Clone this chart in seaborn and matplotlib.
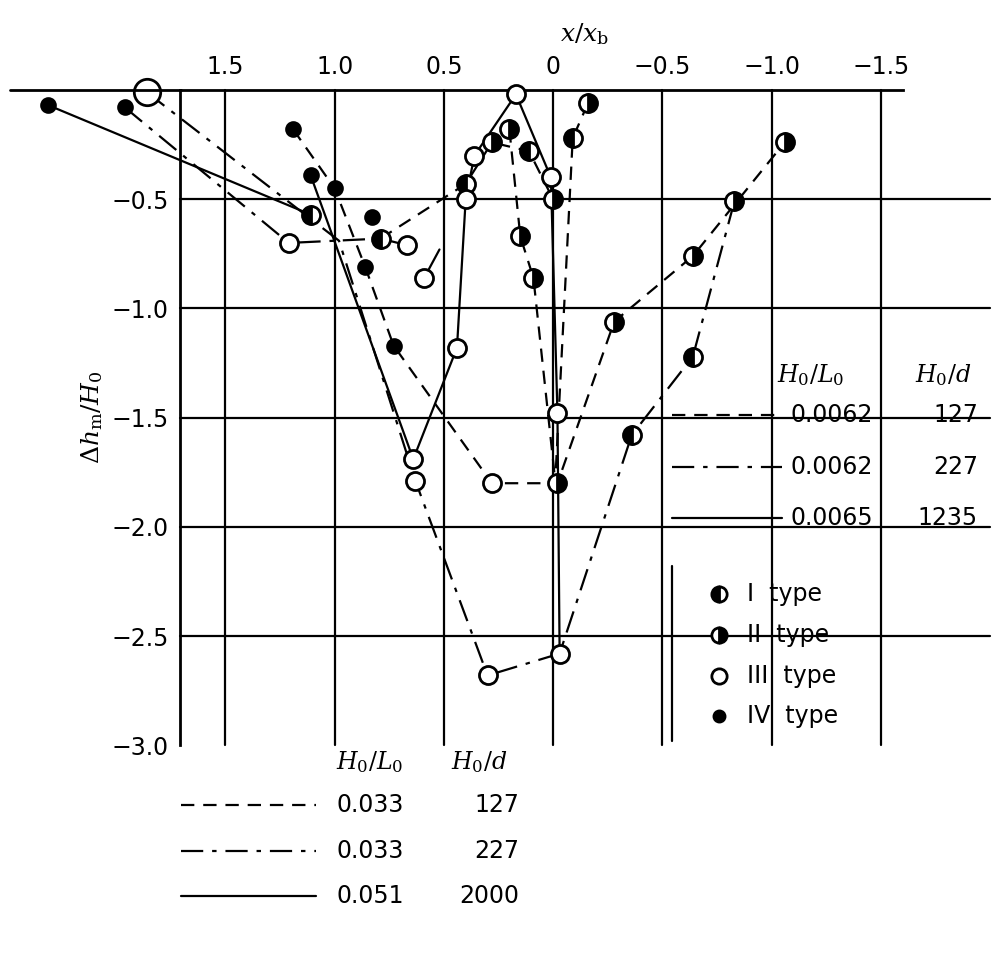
import matplotlib
matplotlib.use("Agg")
import numpy as np
import pandas as pd
import seaborn as sns
from matplotlib import pyplot as plt
from matplotlib.lines import Line2D

# curves (x/x_b, dh_m/H0)
c1_x = [1.19, 1.00, 0.86, 0.73, 0.28, -0.02, -0.28, -0.64, -1.06]
c1_y = [-0.18, -0.45, -0.81, -1.17, -1.80, -1.80, -1.06, -0.76, -0.24]
c2_x = [1.96, 1.21, 1.00, 0.79]
c2_y = [-0.08, -0.70, -0.69, -0.68]
c3_x = [1.86, 0.98, 0.63, 0.30, -0.03, -0.36, -0.64, -0.83]
c3_y = [-0.01, -0.69, -1.79, -2.68, -2.58, -1.58, -1.22, -0.51]
c4_x = [1.11, 0.64, 0.44, 0.40, 0.36, 0.17, 0.01, -0.02, -0.03]
c4_y = [-0.39, -1.69, -1.18, -0.50, -0.30, -0.02, -0.40, -1.48, -2.58]
c5_x = [0.20, 0.15, 0.09, -0.01]
c5_y = [-0.18, -0.67, -0.86, -1.79]
c5b_x = [-0.16, -0.09, -0.01]
c5b_y = [-0.06, -0.22, -1.79]
c6_x = [0.79, 0.67]
c6_y = [-0.68, -0.71]
c6b_x = [0.59, 0.52]
c6b_y = [-0.86, -0.73]
c7_x = [0.79, 0.40, 0.28, 0.11, 0.00]
c7_y = [-0.68, -0.43, -0.24, -0.28, -0.50]
c8_x = [2.31, 1.11]
c8_y = [-0.07, -0.57]

# markers by type
t1_x = [1.11, 0.79, 0.40, 0.11, -0.09, -0.36, -0.64]
t1_y = [-0.57, -0.68, -0.43, -0.28, -0.22, -1.58, -1.22]
t2_x = [0.28, 0.20, 0.15, 0.09, -0.16, -0.28, -0.64, -1.06, -0.83, -0.02, 0.00]
t2_y = [-0.24, -0.18, -0.67, -0.86, -0.06, -1.06, -0.76, -0.24, -0.51, -1.80, -0.50]
t3_x = [1.21, 0.67, 0.59, 0.40, 0.17, 0.01, 0.64, 0.63, 0.44, 0.28, -0.02, 0.30, -0.03, 0.36]
t3_y = [-0.70, -0.71, -0.86, -0.50, -0.02, -0.40, -1.69, -1.79, -1.18, -1.80, -1.48, -2.68, -2.58, -0.30]
t3_big_x = [1.86]
t3_big_y = [-0.01]
t4_x = [2.31, 1.96, 1.19, 1.11, 1.00, 0.86, 0.73, 0.83]
t4_y = [-0.07, -0.08, -0.18, -0.39, -0.45, -0.81, -1.17, -0.58]

x_ticks = [1.5, 1.0, 0.5, 0, -0.5, -1.0, -1.5]
x_tick_labels = ["1.5", "1.0", "0.5", "0", "\u22120.5", "\u22121.0", "\u22121.5"]
y_ticks = [0, -0.5, -1.0, -1.5, -2.0, -2.5, -3.0]
y_tick_labels = ["", "\u22120.5", "\u22121.0", "\u22121.5", "\u22122.0", "\u22122.5", "\u22123.0"]

sns.set_theme(style="white")
plt.rcParams["font.family"] = ["DejaVu Sans"]
plt.rcParams["mathtext.fontset"] = "dejavuserif"
plt.rcParams["text.color"] = "black"
plt.rcParams["axes.labelcolor"] = "black"
plt.rcParams["xtick.color"] = "black"
plt.rcParams["ytick.color"] = "black"

fig = plt.figure(figsize=(10.03, 9.68), dpi=100)
ax = fig.add_axes([0.179, 0.230, 0.808, 0.677])
ax.set_xlim(1.71, -2.0)
ax.set_ylim(-3.0, 0)

for xv in x_ticks:
    ax.axvline(xv, color="black", lw=1.6, zorder=1)
for yv in y_ticks[1:-1]:
    ax.axhline(yv, color="black", lw=1.6, zorder=1)

dash = (0, (6, 4))
dashdot = (0, (10, 4, 2, 4))
curves = [
    (c1_x, c1_y, dash), (c2_x, c2_y, dashdot), (c3_x, c3_y, dashdot),
    (c4_x, c4_y, "-"), (c5_x, c5_y, dash), (c5b_x, c5b_y, dash),
    (c6_x, c6_y, "-"), (c6b_x, c6b_y, "-"), (c7_x, c7_y, dash), (c8_x, c8_y, "-"),
]
for cx, cy, ls in curves:
    df = pd.DataFrame({"x": cx, "y": cy})
    sns.lineplot(data=df, x="x", y="y", sort=False, estimator=None, ax=ax,
                 color="black", lw=1.6, linestyle=ls, zorder=2)
for line in ax.get_lines():
    line.set_clip_on(False)

mk = dict(marker="o", ms=13, mec="black", mew=2, ls="none", clip_on=False, zorder=3)
ax.plot(t1_x, t1_y, fillstyle="left", mfc="black", mfcalt="white", **mk)
ax.plot(t2_x, t2_y, fillstyle="right", mfc="black", mfcalt="white", **mk)
ax.plot(t3_x, t3_y, mfc="white", **mk)
ax.plot(t3_big_x, t3_big_y, mfc="white", **{**mk, "ms": 19})
ax.plot(t4_x, t4_y, mfc="black", **{**mk, "ms": 10})

ax.set_xticks(x_ticks)
ax.set_xticklabels(x_tick_labels)
ax.set_yticks(y_ticks)
ax.set_yticklabels(y_tick_labels)
ax.xaxis.tick_top()
ax.xaxis.set_label_position("top")
ax.tick_params(axis="both", labelsize=17, length=0, pad=8)
ax.set_xlabel("$x/x_\\mathrm{b}$", fontsize=18, labelpad=10)
ax.set_ylabel("$\\Delta h_\\mathrm{m}/H_0$", fontsize=18)
for s in ["right", "bottom"]:
    ax.spines[s].set_visible(False)
ax.spines["left"].set_linewidth(2)
ax.spines["left"].set_color("black")
ax.spines["top"].set_linewidth(2)
ax.spines["top"].set_color("black")
ax.spines["top"].set_bounds(1.71, -1.6)
fig.add_artist(Line2D([0.01, 0.18], [0.907, 0.907], color="black", lw=2))

# upper right legend
fs = 17
fig.text(0.775, 0.605, "$H_0/L_0$", fontsize=fs)
fig.text(0.912, 0.605, "$H_0/d$", fontsize=fs)
styles = [dash, dashdot, "-"]
for i, (a, b) in enumerate([("0.0062", "127"), ("0.0062", "227"), ("0.0065", "1235")]):
    yy = 0.571 - i * 0.053
    fig.add_artist(Line2D([0.67, 0.78], [yy, yy], color="black", lw=1.6, ls=styles[i]))
    fig.text(0.788, yy, a, fontsize=fs, va="center")
    fig.text(0.975, yy, b, fontsize=fs, va="center", ha="right")

fig.add_artist(Line2D([0.67, 0.67], [0.235, 0.415], color="black", lw=1.6))
tl = ["I  type", "II  type", "III  type", "IV  type"]
for i, t in enumerate(tl):
    yy = 0.386 - i * 0.042
    kw = dict(marker="o", ms=11, mec="black", mew=2, transform=fig.transFigure)
    if i == 0:
        kw.update(fillstyle="left", mfc="black", mfcalt="white")
    elif i == 1:
        kw.update(fillstyle="right", mfc="black", mfcalt="white")
    elif i == 2:
        kw.update(mfc="white")
    else:
        kw.update(mfc="black", ms=8)
    fig.add_artist(Line2D([0.717], [yy], **kw))
    fig.text(0.745, yy, t, fontsize=fs, va="center")

# lower legend
fig.text(0.335, 0.205, "$H_0/L_0$", fontsize=fs)
fig.text(0.45, 0.205, "$H_0/d$", fontsize=fs)
for i, (a, b) in enumerate([("0.033", "127"), ("0.033", "227"), ("0.051", "2000")]):
    yy = 0.168 - i * 0.047
    fig.add_artist(Line2D([0.18, 0.315], [yy, yy], color="black", lw=1.6, ls=styles[i]))
    fig.text(0.335, yy, a, fontsize=fs, va="center")
    fig.text(0.518, yy, b, fontsize=fs, va="center", ha="right")

fig.savefig("out.png", dpi=100, facecolor="white")
